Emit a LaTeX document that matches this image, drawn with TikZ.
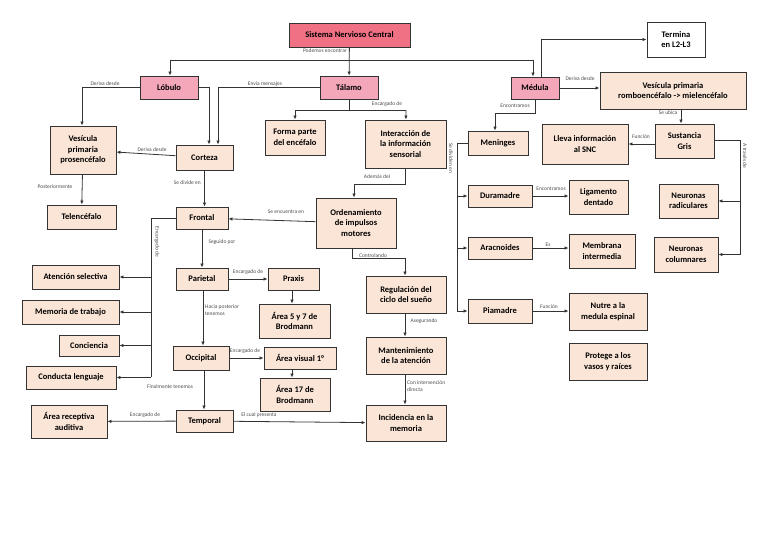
\documentclass[tikz,border=0pt]{standalone}
\usepackage{fontspec}
\setmainfont{Carlito}
\usetikzlibrary{arrows.meta}
\definecolor{peach}{HTML}{FBE5D6}
\definecolor{pinkA}{HTML}{F4A7B9}
\definecolor{pinkB}{HTML}{F07184}
\begin{document}
\begin{tikzpicture}[x=1pt,y=-1pt,
 box/.style={draw=black!80,line width=0.9pt,fill=peach,align=center,inner sep=1pt,font=\bfseries\fontsize{8.5}{10.5}\selectfont},
 pbox/.style={box,fill=pinkA},
 lab/.style={font=\fontsize{5.5}{6.5}\selectfont,text=black!70,inner sep=1pt},
 ar/.style={-{Latex[length=4pt,width=3.5pt]},line width=0.8pt,draw=black!80},
 ln/.style={line width=0.8pt,draw=black!80}]
\useasboundingbox (0,0) rectangle (768,543);
\newcommand{\bx}[6][box]{\node[#1,minimum width=#4,minimum height=#5] (#2) at #3 {#6};}
\bx[pbox,fill=pinkB]{snc}{(349.5,35)}{121}{24}{Sistema Nervioso Central}
\bx[pbox]{lob}{(169,87.5)}{58}{23}{Lóbulo}
\bx[pbox]{tal}{(349,87.5)}{58}{23}{Tálamo}
\bx[pbox]{med}{(535,88)}{48}{22}{Médula}
\bx[box,fill=white]{ter}{(676,39.5)}{58}{35}{Termina\\en L2-L3}
\bx{vesr}{(673,90.5)}{146}{37}{Vesícula primaria\\romboencéfalo -> mielencéfalo}
\bx{vesp}{(83,150)}{66}{48}{Vesícula\\primaria\\prosencéfalo}
\bx{cor}{(204.5,157.5)}{57}{25}{Corteza}
\bx{for}{(295,137.5)}{60}{35}{Forma parte\\del encéfalo}
\bx{int}{(405.5,144)}{81}{48}{Interacción de\\la información\\sensorial}
\bx{tel}{(81.5,217)}{69}{24}{Telencéfalo}
\bx{fro}{(202,218)}{52}{22}{Frontal}
\bx{ord}{(356,223)}{80}{50}{Ordenamiento\\de impulsos\\motores}
\bx{men}{(498,143)}{60}{24}{Meninges}
\bx{lle}{(585,144)}{86}{40}{Lleva información\\al SNC}
\bx{sus}{(684.5,141)}{59}{34}{Sustancia\\Gris}
\bx{dur}{(500,196)}{64}{22}{Duramadre}
\bx{lig}{(598.5,197)}{59}{34}{Ligamento\\dentado}
\bx{nrad}{(688.5,201)}{59}{34}{Neuronas\\radiculares}
\bx{ara}{(500,248)}{64}{22}{Aracnoides}
\bx{mem}{(602,251)}{66}{34}{Membrana\\intermedia}
\bx{ncol}{(686,254.5)}{64}{35}{Neuronas\\columnares}
\bx{pia}{(500,311)}{64}{24}{Piamadre}
\bx{nut}{(608,311.5)}{78}{37}{Nutre a la\\medula espinal}
\bx{pro}{(608,361.5)}{78}{37}{Protege a los\\vasos y raíces}
\bx{ate}{(75.5,277)}{87}{24}{Atención selectiva}
\bx{mtr}{(70.5,312)}{97}{24}{Memoria de trabajo}
\bx{con}{(89,345.5)}{60}{21}{Conciencia}
\bx{cle}{(71,377.5)}{90}{23}{Conducta lenguaje}
\bx{par}{(202,279)}{52}{22}{Parietal}
\bx{pra}{(293.5,279)}{51}{22}{Praxis}
\bx{a57}{(294.5,321)}{71}{34}{Área 5 y 7 de\\Brodmann}
\bx{occ}{(201,358)}{56}{24}{Occipital}
\bx{avi}{(300,358)}{72}{22}{Área visual 1°}
\bx{a17}{(295,394.5)}{70}{33}{Área 17 de\\Brodmann}
\bx{tem}{(204.5,421)}{57}{22}{Temporal}
\bx{are}{(69,421.5)}{76}{33}{Área receptiva\\auditiva}
\bx{reg}{(406,294.5)}{80}{37}{Regulación del\\ciclo del sueño}
\bx{man}{(406,355.5)}{80}{37}{Mantenimiento\\de la atención}
\bx{inc}{(406,423)}{80}{36}{Incidencia en la\\memoria}
% top
\coordinate (j1) at (349,60);
\draw[ar] (snc) -- (tal);
\draw[ln] (170,60) -- (533,60);
\draw[ar] (170,60) -- (lob.north-|170,0);
\draw[ar] (533,60) -- (med.north-|533,0);
\node[lab,anchor=east] at (348,51) {Podemos encontrar};
\draw[ar] (lob.west) -| (vesp.north-|82,0);
\node[lab] at (105,84) {Deriva desde};
\draw[ar] (lob.east) -| (cor.north-|209,0);
\draw[ar] (tal.west) -| (cor.north-|218,0);
\node[lab] at (265,84) {Envía mensajes};
\draw[ln] (tal.south) -- (349,110);
\draw[ln] (295,110) -- (406,110);
\draw[ar] (295,110) -- (for);
\draw[ar] (406,110) -- (int);
\node[lab] at (387,104) {Encargado de};
\draw[ar] (cor) -- (vesp);
\node[lab] at (152,150) {Deriva desde};
\draw[ar] (vesp) -- (tel);
\node[lab] at (55,187) {Posteriormente};
\draw[ar] (cor) -- (cor|-fro.north);
\node[lab,anchor=east] at (202,183) {Se divide en};
\draw[ar] (int.south-|405,0) -- (405,184) -| (ord.north-|354,0);
\node[lab] at (377,177) {Además del};
\draw[ar] (ord) -- (fro);
\node[lab] at (286,212) {Se encuentra en};
\draw[ln] (fro.west) -| (151,377);
\foreach \n/\y in {ate/277,mtr/312,con/345.5,cle/377.5} \draw[ar] (151,\y) -- (\n.east);
\node[lab,rotate=-90] at (157,242) {Encargado de};
\draw[ar] (fro) -- (par);
\node[lab] at (222,242) {Seguido por};
\draw[ar] (par) -- (pra);
\node[lab] at (248,272) {Encargado de};
\draw[ar] (pra.south-|292,0) -- (a57.north-|292,0);
\draw[ar] (par.south-|203,0) -- (occ.north-|203,0);
\node[lab,align=left,anchor=west] at (204,310) {Hacia posterior\\tenemos};
\draw[ar] (occ) -- (avi);
\node[lab] at (245,351) {Encargado de};
\draw[ar] (avi.south-|292,0) -- (a17.north-|292,0);
\draw[ar] (occ.south-|204,0) -- (tem.north-|204,0);
\node[lab] at (170,387) {Finalmente tenemos};
\draw[ar] (tem) -- (are);
\node[lab] at (145,415) {Encargado de};
\draw[ar] (tem) -- (inc);
\node[lab] at (259,415) {El cual presenta};
\draw[ar] (ord.south-|352,0) -- (352,258) -| (reg.north-|405,0);
\node[lab] at (373,256) {Controlando};
\draw[ar] (reg.south-|405,0) -- (man.north-|405,0);
\node[lab] at (424,321) {Asegurando};
\draw[ar] (man.south-|405,0) -- (inc.north-|405,0);
\node[lab,align=left,anchor=west] at (406,386) {Con intervención\\directa};
% right
\draw[ar] (med.north-|541,0) |- (ter.west);
\draw[ar] (med) -- (med-|vesr.west);
\node[lab] at (580,79) {Deriva desde};
\draw[ar] (med.south) -- (535,113) -| (men.north-|495,0);
\node[lab] at (515,106) {Encontramos};
\draw[ar] (vesr.south-|681,0) -- (sus.north-|681,0);
\node[lab] at (668,113) {Se ubica};
\draw[ar] (sus.west|-lle) -- (lle);
\node[lab] at (641,137) {Función};
\draw[ln] (sus.east|-0,140) -| (740,254.5);
\draw[ar] (740,201) -- (nrad.east);
\draw[ar] (740,254.5) -- (ncol.east);
\node[lab,rotate=-90] at (745,156) {A través de};
\draw[ln] (men.west) -| (457,311);
\draw[ar] (457,196) -- (dur.west);
\draw[ar] (457,248) -- (ara.west);
\draw[ar] (457,311) -- (pia.west);
\node[lab,rotate=-90] at (451,158) {Se dividen en};
\draw[ar] (dur) -- (dur-|lig.west);
\node[lab] at (551,189) {Encontramos};
\draw[ar] (ara) -- (ara-|mem.west);
\node[lab] at (548,245) {Es};
\draw[ar] (pia) -- (pia-|nut.west);
\node[lab] at (549,307) {Función};
\end{tikzpicture}
\end{document}
